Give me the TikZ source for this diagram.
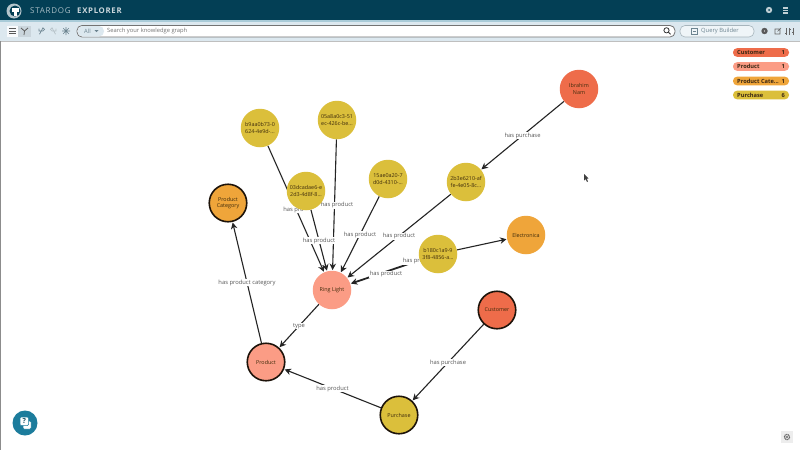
\documentclass[tikz,border=0pt]{standalone}
\usepackage{fontspec}
\setmainfont{Open Sans}
\usetikzlibrary{arrows.meta,backgrounds}
\definecolor{hdr}{HTML}{033F55}
\definecolor{tool}{HTML}{DCE8EF}
\definecolor{topline}{HTML}{A9CBD8}
\definecolor{cCust}{HTML}{EE6C4A}
\definecolor{cProd}{HTML}{FB9C85}
\definecolor{cCat}{HTML}{EFA53A}
\definecolor{cPurch}{HTML}{DBBF3B}
\definecolor{edgec}{HTML}{242424}
\definecolor{labc}{HTML}{555555}
\definecolor{ntext}{HTML}{3F2C0C}
\definecolor{icon}{HTML}{6C8490}
\definecolor{helpc}{HTML}{1C7C9C}
\tikzset{
  gnode/.style={circle,minimum size=38.5pt,inner sep=0pt,align=center,font=\fontsize{5.4}{6.3}\selectfont,text=ntext},
  ring/.style={gnode,draw=black!85!brown,line width=1.6pt,minimum size=37.5pt},
  edge/.style={draw=edgec,line width=1.1pt,-{Stealth[length=6.5pt,width=6.5pt]},shorten >=.5pt},
  heavy/.style={edge,line width=1.8pt},
  elab/.style={fill=white,inner sep=.6pt,font=\fontsize{5.8}{6.5}\selectfont,text=labc},
  pill/.style={rounded corners=4pt,minimum width=56pt,minimum height=8.6pt,inner sep=0pt},
  legt/.style={font=\bfseries\fontsize{5.7}{6.5}\selectfont,text=black!70!brown,inner sep=0pt},
  ic/.style={draw=icon,line width=.7pt},
  tooltext/.style={font=\fontsize{5.8}{6.5}\selectfont,text=icon,inner sep=0pt}
}
\begin{document}
\begin{tikzpicture}[x=1pt,y=-1pt]
\useasboundingbox (0,0) rectangle (800,450);
% graph nodes
\node[gnode,fill=cCust] (ib) at (579,89) {Ibrahim\\Nam};
\node[gnode,fill=cPurch] (b9) at (260,128) {b9aa0b73-0\\624-4e9d-...};
\node[gnode,fill=cPurch] (d05) at (337,120) {05a8a0c3-51\\ec-426c-be...};
\node[gnode,fill=cPurch] (d03) at (306,191) {03dcadae6-e\\2d3-4d8f-8...};
\node[gnode,fill=cPurch] (d15) at (388,179) {15ae0a20-7\\d0d-4310-...};
\node[gnode,fill=cPurch] (d2b) at (466,182) {2b3e6210-af\\fe-4e05-8c...};
\node[gnode,fill=cPurch] (b1) at (438,254) {b180c1a9-9\\3f8-4856-a...};
\node[gnode,fill=cCat] (el) at (526,235) {Electronica};
\node[ring,fill=cCat] (cat) at (228,203) {Product\\Category};
\node[gnode,fill=cProd] (rl) at (332,290) {Ring Light};
\node[ring,fill=cProd] (pr) at (266,362) {Product};
\node[ring,fill=cCust] (cu) at (497,310) {Customer};
\node[ring,fill=cPurch] (pu) at (399,415) {Purchase};
% legend
\node[pill,fill=cCust] (lg1) at (761,52.5) {};
\node[pill,fill=cProd] (lg2) at (761,66.5) {};
\node[pill,fill=cCat] (lg3) at (761,81) {};
\node[pill,fill=cPurch] (lg4) at (761,95) {};
\node[legt,anchor=west] (lt1) at (737,52.5) {Customer};
\node[legt,anchor=west] (lt2) at (737,66.5) {Product};
\node[legt,anchor=west] (lt3) at (737,81) {Product Cate...};
\node[legt,anchor=west] (lt4) at (737,95) {Purchase};
\node[legt,anchor=east] (ln1) at (785,52.5) {1};
\node[legt,anchor=east] (ln2) at (785,66.5) {1};
\node[legt,anchor=east] (ln3) at (785,81) {1};
\node[legt,anchor=east] (ln4) at (785,95) {6};
% edges below nodes
\begin{pgfonlayer}{background}
\fill[white] (0,0) rectangle (800,450);
\draw[edge] (ib) -- node[elab] (e1) {has purchase} (d2b);
\draw[edge] (b9) -- (rl);
\node[elab,anchor=west] (e2) at (282.5,209.5) {has pro};
\draw[edge] (d05) -- (rl);
\node[elab] (e3) at (337,205) {has product};
\draw[edge] (d03) -- node[elab] (e4) {has product} (rl);
\draw[edge] (d15) -- node[elab] (e5) {has product} (rl);
\draw[edge] (d2b) -- node[elab] (e6) {has product} (rl);
\draw[heavy] (b1) -- (rl);
\node[elab,anchor=west] (e7) at (402,261) {has pro};
\node[elab] (e8) at (386,274) {has product};
\draw[edge] (b1) -- (el);
\draw[edge] (rl) -- node[elab] (e9) {type} (pr);
\draw[edge] (pr) -- node[elab] (e10) {has product category} (cat);
\draw[edge] (pu) -- node[elab] (e11) {has product} (pr);
\draw[edge] (cu) -- node[elab] (e12) {has purchase} (pu);
\end{pgfonlayer}
% header
\fill[hdr] (0,0) rectangle (800,20);
\fill[topline] (0,20) rectangle (800,22);
\fill[tool] (0,22) rectangle (800,41);
\fill[black!25] (0,41) rectangle (800,41.7);
\fill[black!45] (0,41) rectangle (1,450);
% logo
\fill[white!70!hdr] (14,11) circle (7.5);
\fill[hdr] (15,11) circle (5.5);
\fill[white] (12,8) rectangle (19,12);
\fill[white] (14,12) rectangle (17,16);
\node[anchor=west,inner sep=0pt,font=\fontsize{8}{9}\selectfont,text=white!65!hdr] (ttl) at (30,10.5) {\addfontfeature{LetterSpace=9}STARDOG};
\node[anchor=west,inner sep=0pt,font=\bfseries\fontsize{7.8}{9}\selectfont,text=white!80!hdr] (ttl2) at (77,10.5) {\addfontfeature{LetterSpace=9}EXPLORER};
% header right icons
\fill[white!75!hdr] (769,10) circle (3.2);
\fill[hdr] (769,10) circle (1);
\fill[white!75!hdr] (782.5,7) rectangle (787.5,13.5);
\draw[hdr,line width=.4pt] (782.5,9.2) -- (787.5,9.2) (782.5,11.3) -- (787.5,11.3);
% toolbar icons
\fill[white!80!tool] (7,26) rectangle (18,37);
\fill[black!8!tool] (18,26) rectangle (31,37);
\draw[black!65,line width=.6pt] (9,28.5) -- (16,28.5) (9,31) -- (16,31) (9,33.5) -- (16,33.5);
\draw[black!65,line width=.8pt] (21,28) -- (24.5,31) -- (28,28) (24.5,31) -- (24,35);
\draw[ic] (39,28.5) -- (39,31) -- (41.5,31) (39,31) -- (43,31) arc[start angle=90,end angle=-90,radius=1.6] -- (39.5,34.2);
\draw[ic,draw=icon!50] (56,28.5) -- (56,31) -- (53.5,31) (56,31) -- (52,31) arc[start angle=90,end angle=270,radius=1.6] -- (55.5,34.2);
\draw[ic] (62,31) -- (70,31) (66,27) -- (66,35) (63.2,28.2) -- (68.8,33.8) (63.2,33.8) -- (68.8,28.2);
% search box
\draw[fill=white,draw=black!55,line width=.8pt,rounded corners=5pt] (77,25.5) rectangle (675,37);
\path[fill=tool,rounded corners=5pt] (77.5,26) -- (104,26) -- (104,36.5) -- (77.5,36.5) -- cycle;
\node[tooltext,anchor=west] (all) at (84,31) {All};
\fill[icon] (94.5,30) -- (98.5,30) -- (96.5,32.2) -- cycle;
\node[tooltext,anchor=west,text=black!55] (srch) at (107,31) {Search your knowledge graph};
\draw[black!80,line width=.8pt] (666.5,30.3) circle (2.6) (668.4,32.2) -- (670.5,34.3);
% query builder
\draw[fill=white!55!tool,draw=icon!60,line width=.6pt,rounded corners=5pt] (680,25.5) rectangle (754,37);
\draw[ic,line width=.5pt] (691.5,28) rectangle (697.5,34);
\draw[ic,line width=.5pt] (693,31) -- (696,31);
\node[tooltext,anchor=west] (qb) at (701,31) {Query Builder};
% right toolbar icons
\fill[black!65] (764.5,31) circle (3.2);
\fill[white] (764.5,31) circle (.7);
\draw[black!60,line width=.6pt] (775,29) rectangle (780,34) (777.5,31.5) -- (781,28);
\draw[black!60,line width=.6pt] (786,28) -- (786,35) (789.5,28) -- (789.5,35) (793,28) -- (793,35)
  (785,33) -- (787,33) (788.5,29.5) -- (790.5,29.5) (792,32) -- (794,32);
% help button
\fill[helpc] (25,423) circle (12.5);
\draw[fill=white,draw=helpc,line width=.5pt,rounded corners=1pt] (23,421) rectangle (31,429);
\draw[fill=white,draw=helpc,line width=.5pt,rounded corners=1pt] (20,417) rectangle (28.5,425.5);
\node[inner sep=0pt,font=\bfseries\fontsize{7}{7}\selectfont,text=helpc!60!black] (hq) at (24.2,421.2) {?};
% gear
\fill[black!7] (781,431) rectangle (793,443);
\draw[black!60,line width=1.2pt,dash pattern=on 1pt off .6pt] (787,437) circle (2.6);
\fill[black!60] (787,437) circle (1.2);
% cursor
\fill[black!75] (584,174) -- (584,180.5) -- (585.6,179.2) -- (587,182) -- (588,181.4) -- (586.8,178.8) -- (588.6,178.4) -- cycle;
\end{tikzpicture}
\end{document}
